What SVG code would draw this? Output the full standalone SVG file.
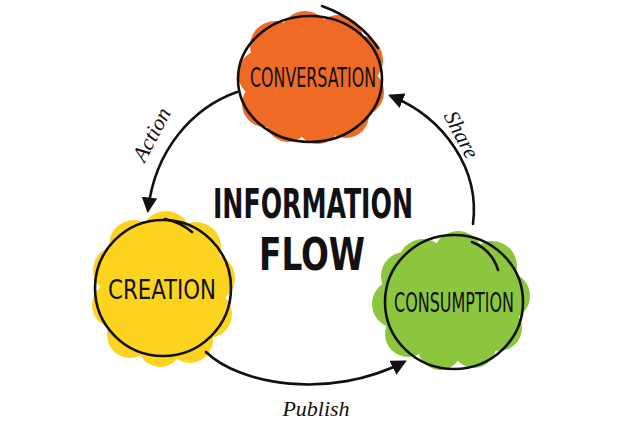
<svg xmlns="http://www.w3.org/2000/svg" width="640" height="435" viewBox="0 0 640 435">
<style>
.ring{fill:none;stroke:#111;stroke-width:2.6;stroke-linecap:round}
.conn{fill:none;stroke:#111;stroke-width:2.6;stroke-linecap:round}
.node{font-family:"DejaVu Sans Condensed","Liberation Sans",sans-serif;font-size:26px;fill:#111;text-anchor:middle}
.lbl{font-family:"Liberation Serif","DejaVu Serif",serif;font-style:italic;font-size:22px;fill:#111;text-anchor:middle}
.title{font-family:"DejaVu Sans Condensed","Liberation Sans",sans-serif;font-weight:bold;fill:#111;text-anchor:middle}
.or{fill:#EE6A25}.ye{fill:#FCD420}.gr{fill:#8CC63F}
</style>
<defs>
<marker id="ah" viewBox="0 0 10 10" refX="8" refY="5" markerWidth="6" markerHeight="6" orient="auto" markerUnits="strokeWidth">
<path d="M0,0 L10,5 L0,10 Z" fill="#111"/>
</marker>
</defs>
<rect width="640" height="435" fill="#fff"/>
<g id="conversation">
<g class="or">
<ellipse cx="311" cy="80" rx="62" ry="55"/>
<circle cx="275" cy="46" r="25"/><circle cx="305" cy="36" r="25"/><circle cx="338" cy="40" r="25"/>
<circle cx="358" cy="60" r="25"/><circle cx="360" cy="92" r="24"/><circle cx="346" cy="115" r="23"/>
<circle cx="318" cy="122" r="22"/><circle cx="288" cy="120" r="22"/><circle cx="265" cy="104" r="23"/><circle cx="262" cy="74" r="24"/>
</g>
<ellipse class="ring" cx="310" cy="79" rx="72" ry="63"/>
<path class="ring" d="M322 6 Q360 20 378 48"/>
<text class="node" x="313" y="87" textLength="126" lengthAdjust="spacingAndGlyphs">CONVERSATION</text>
</g>
<g id="creation">
<g class="ye">
<ellipse cx="165" cy="290" rx="58" ry="62"/>
<circle cx="134" cy="245" r="25"/><circle cx="166" cy="236" r="25"/><circle cx="196" cy="247" r="25"/>
<circle cx="211" cy="278" r="24"/><circle cx="208" cy="314" r="24"/><circle cx="190" cy="340" r="23"/>
<circle cx="160" cy="345" r="22"/><circle cx="130" cy="335" r="23"/><circle cx="115" cy="305" r="23"/><circle cx="117" cy="270" r="24"/>
</g>
<circle class="ring" cx="163" cy="288" r="68"/>
<path class="ring" d="M165 219 Q180 222 192 232"/>
<text class="node" x="162" y="299" textLength="108" lengthAdjust="spacingAndGlyphs">CREATION</text>
</g>
<g id="consumption">
<g class="gr">
<ellipse cx="452" cy="302" rx="62" ry="57"/>
<circle cx="423" cy="264" r="25"/><circle cx="458" cy="256" r="25"/><circle cx="492" cy="266" r="25"/>
<circle cx="506" cy="296" r="24"/><circle cx="499" cy="328" r="23"/><circle cx="474" cy="346" r="22"/>
<circle cx="440" cy="348" r="22"/><circle cx="408" cy="334" r="23"/><circle cx="396" cy="304" r="24"/><circle cx="405" cy="276" r="24"/>
</g>
<ellipse class="ring" cx="454" cy="302" rx="69" ry="67"/>
<path class="ring" d="M472 242 Q492 250 498 270"/>
<text class="node" x="454" y="312" textLength="120" lengthAdjust="spacingAndGlyphs">CONSUMPTION</text>
</g>
<g id="title">
<text class="title" x="313" y="218" font-size="40" textLength="200" lengthAdjust="spacingAndGlyphs">INFORMATION</text>
<text class="title" x="312" y="270" font-size="44" textLength="106" lengthAdjust="spacingAndGlyphs">FLOW</text>
</g>
<g id="connectors">
<path class="conn" marker-end="url(#ah)" d="M237 92 C192 108 155 150 148 210"/>
<path class="conn" marker-end="url(#ah)" d="M473 224 C480 170 445 118 391 96"/>
<path class="conn" marker-end="url(#ah)" d="M206 352 C240 385 330 400 404 362"/>
<text class="lbl" transform="translate(158 138) rotate(-62)">Action</text>
<text class="lbl" transform="translate(455 138) rotate(62)">Share</text>
<text class="lbl" x="316" y="416">Publish</text>
</g>
</svg>
